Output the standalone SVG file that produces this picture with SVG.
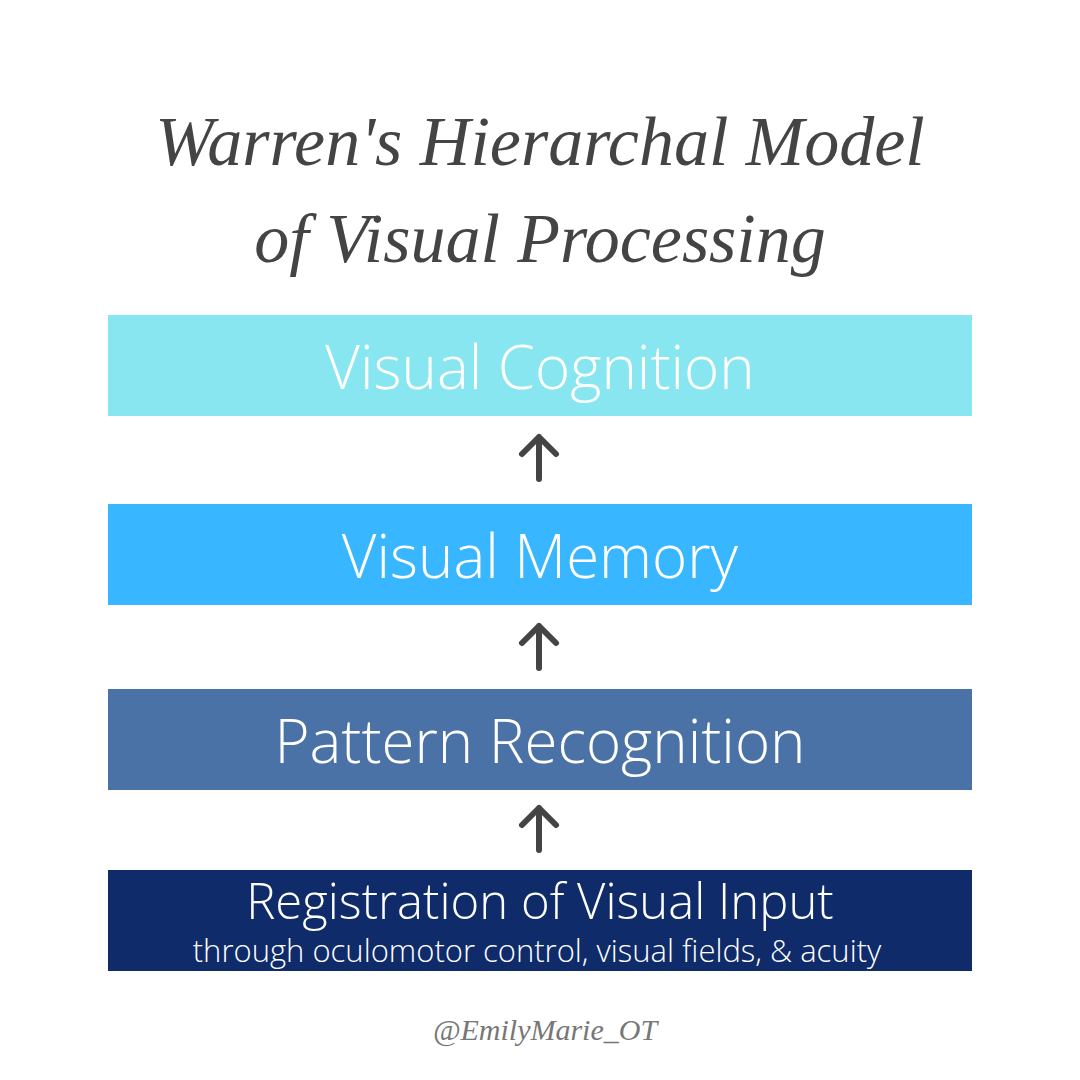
<svg xmlns="http://www.w3.org/2000/svg" width="1080" height="1080" viewBox="0 0 1080 1080">
<style>
.t{font-family:"Open Sans","Liberation Sans",sans-serif;font-weight:300;fill:#fff;text-anchor:middle}
.h{font-family:"Liberation Serif",serif;font-style:italic;fill:#444;text-anchor:middle}
.a{stroke:#444;stroke-width:6;fill:none;stroke-linecap:round;stroke-linejoin:round}
</style>
<rect width="1080" height="1080" fill="#fff"/>
<text class="h" x="540" y="165" font-size="70">Warren's Hierarchal Model</text>
<text class="h" x="540" y="262" font-size="70">of Visual Processing</text>
<g id="cognition"><rect x="108" y="315" width="864" height="101" fill="#87E6F0"/><text class="t" x="540" y="389" font-size="60">Visual Cognition</text></g>
<g id="memory"><rect x="108" y="504" width="864" height="101" fill="#38B6FF"/><text class="t" x="540" y="578" font-size="60">Visual Memory</text></g>
<g id="pattern"><rect x="108" y="689" width="864" height="101" fill="#4A72A6"/><text class="t" x="540" y="763" font-size="60">Pattern Recognition</text></g>
<g id="registration"><rect x="108" y="870" width="864" height="101" fill="#0F2B69"/><text class="t" x="540" y="919" font-size="49">Registration of Visual Input</text><text class="t" x="537" y="962" font-size="31">through oculomotor control, visual fields, &amp; acuity</text></g>
<g id="connectors">
<path class="a" d="M539 479V437M522 454L539 437L556 454"/>
<path class="a" d="M539 668V626M522 643L539 626L556 643"/>
<path class="a" d="M539 850V808M522 825L539 808L556 825"/>
</g>
<text class="h" x="545" y="1040" font-size="30" style="fill:#777">@EmilyMarie_OT</text>
</svg>
